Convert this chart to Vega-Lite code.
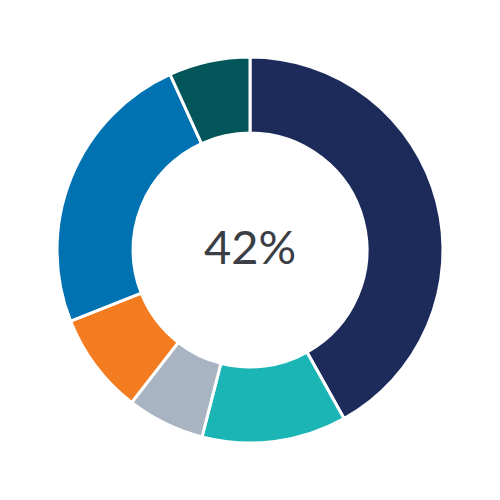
{
  "$schema": "https://vega.github.io/schema/vega-lite/v6.json",
  "width": 500,
  "height": 500,
  "padding": 0,
  "autosize": {"type": "fit", "contains": "padding"},
  "background": "white",
  "view": {"stroke": null},
  "data": {"values": [
    {"seg": "A", "order": 1, "value": 41.9},
    {"seg": "B", "order": 2, "value": 12.1},
    {"seg": "C", "order": 3, "value": 6.5},
    {"seg": "D", "order": 4, "value": 8.5},
    {"seg": "E", "order": 5, "value": 24.2},
    {"seg": "F", "order": 6, "value": 6.8}
  ]},
  "layer": [
    {
      "mark": {"type": "arc", "outerRadius": 193, "innerRadius": 117, "stroke": "white", "strokeWidth": 3},
      "encoding": {
        "theta": {"field": "value", "type": "quantitative", "stack": true},
        "order": {"field": "order", "type": "quantitative"},
        "color": {
          "field": "seg", "type": "nominal", "legend": null,
          "scale": {"domain": ["A","B","C","D","E","F"], "range": ["#1c2b5a","#1cb5b5","#a9b4c2","#f47c20","#0072b2","#02565a"]}
        }
      }
    },
    {
      "data": {"values": [{"label": "42%"}]},
      "mark": {"type": "text", "font": "Lato", "fontWeight": 400, "fontSize": 47, "color": "#3b3f45", "align": "center", "baseline": "middle"},
      "encoding": {"text": {"field": "label"}}
    }
  ]
}
